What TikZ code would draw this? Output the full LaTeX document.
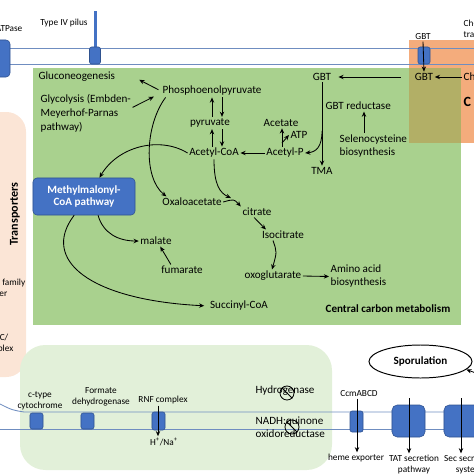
\documentclass[tikz,border=0pt]{standalone}
\usepackage{fontspec}
\setmainfont{Carlito}
\usepackage{xcolor}
\usetikzlibrary{shapes.geometric,positioning}
\usetikzlibrary{arrows.meta}

\definecolor{cgreen}{HTML}{A9D18E}
\definecolor{corange}{HTML}{F4AC7C}
\definecolor{colive}{HTML}{B2AF66}
\definecolor{cpeach}{HTML}{FBE5D6}
\definecolor{cpale}{HTML}{E2F0D9}
\definecolor{protblue}{HTML}{4472C4}
\definecolor{protdark}{HTML}{2F528F}
\definecolor{memblue}{HTML}{6F8DC0}

\tikzset{
  lbl/.style={font=\fontsize{7.9}{9.9}\selectfont, inner sep=1pt},
  sm/.style={font=\fontsize{6.6}{7.8}\selectfont, inner sep=1pt, align=center},
  prot/.style={fill=protblue, draw=protdark, line width=0.4pt, rounded corners=1.5pt, inner sep=0pt},
  mem/.style={draw=memblue, line width=0.6pt},
  arr/.style={-{Stealth[length=1.3mm, width=1.1mm]}, line width=0.6pt},
  nosign/.style={draw, circle, minimum size=3.5mm, inner sep=0pt, line width=0.6pt},
}

\begin{document}
\begin{tikzpicture}[x=0.025cm, y=-0.025cm]
\useasboundingbox (0,0) rectangle (474,474);
\clip (0,0) rectangle (474,474);

\fill[cgreen] (33,68) rectangle (461,325);
\fill[corange] (409,40) rectangle (480,143);
\fill[colive] (409,68) rectangle (461,143);
\fill[cpeach, rounded corners=14] (-30,112) rectangle (26,377);
\fill[cpale, rounded corners=18] (20,345) rectangle (332,470);

\draw[mem] (0,48) -- (480,48);
\draw[mem] (0,64) -- (480,64);
\draw[mem] (0,404) .. controls (12,410) .. (24,412) -- (480,412);
\draw[mem] (0,429) -- (480,429);

% membrane proteins, top
\node[prot, rounded corners=1mm, minimum width=3.75mm, minimum height=9.25mm] (atpase) at (2.5,58.5) {};
\node[sm, anchor=east] (atpaselbl) at (24,29) {ATPase};
\node[fill=protblue, inner sep=0pt, minimum width=0.75mm, minimum height=9.25mm] (stalk) at (95,29.5) {};
\node[prot, minimum width=2.75mm, minimum height=4.25mm] (pilus) at (95,55.5) {};
\node[sm] (piluslbl) at (64,23) {Type IV pilus};
\node[prot, minimum width=3mm, minimum height=4.25mm] (gbtT) at (424,55.5) {};
\node[sm] (gbtout) at (423,37) {GBT};
\node[sm, anchor=west, align=left] (chtr) at (462,28.5) {Ch-\\tra};

% central carbon metabolism
\node[lbl, anchor=west] (gluco) at (37,77) {Gluconeogenesis};
\node[lbl, anchor=west, align=left] (glyco) at (39,113) {Glycolysis (Embden-\\Meyerhof-Parnas\\pathway)};
\node[lbl] (pep) at (212,91) {Phosphoenolpyruvate};
\node[lbl] (pyr) at (210,123) {pyruvate};
\node[lbl] (acoa) at (214,153) {Acetyl-CoA};
\node[lbl] (acetate) at (281,123) {Acetate};
\node[lbl] (atp) at (299,135) {ATP};
\node[lbl] (acp) at (285,153) {Acetyl-P};
\node[lbl] (gbt) at (322,77) {GBT};
\node[lbl] (gbtin) at (424,77) {GBT};
\node[lbl, anchor=west] (chin) at (462,77) {Ch};
\node[font=\fontsize{10}{12}\selectfont\bfseries, anchor=west, inner sep=1pt] (cbig) at (462,102) {C};
\node[lbl, anchor=west] (gbtred) at (324,106) {GBT reductase};
\node[lbl, anchor=west, align=left] (seleno) at (338,146) {Selenocysteine\\biosynthesis};
\node[lbl] (tma) at (322,171) {TMA};
\node[fill=protblue, draw=protdark, line width=0.4pt, rounded corners=1mm, minimum width=2.55cm, minimum height=0.925cm,
  text=white, font=\fontsize{7.9}{9}\selectfont\bfseries, align=center, inner sep=1pt] (mmc) at (84,196.5) {Methylmalonyl-\\CoA pathway};
\node[lbl] (oxalo) at (192,202) {Oxaloacetate};
\node[lbl] (citrate) at (257,212) {citrate};
\node[lbl] (isocit) at (283,235) {Isocitrate};
\node[lbl] (oxo) at (273,276) {oxoglutarate};
\node[lbl, font=\fontsize{7.9}{9.2}\selectfont, anchor=west, align=left] (amino) at (329,276.5) {Amino acid\\biosynthesis};
\node[lbl] (malate) at (156,241) {malate};
\node[lbl] (fum) at (182,270) {fumarate};
\node[lbl] (succ) at (239,306) {Succinyl-CoA};
\node[lbl, font=\fontsize{7.9}{9.9}\selectfont\bfseries] (ccmet) at (388,309) {Central carbon metabolism};

\draw[arr, shorten <=2pt] (pep.west) -- ([xshift=16pt,yshift=-2pt]gluco.east);
\draw[arr] ([yshift=4pt]glyco.east) -- ([xshift=-5pt,yshift=-4pt]pep.west);
\draw[arr] (212,0 |- pyr.north) -- (212,0 |- pep.south);
\draw[arr] (222,0 |- pep.south) -- (222,0 |- pyr.north);
\draw[arr] (212,0 |- acoa.north) -- (212,0 |- pyr.south);
\draw[arr] (222,0 |- pyr.south) -- (222,0 |- acoa.north);
\draw[arr] (acp.west) -- (acoa.east);
\draw[arr] (282,0 |- acp.north) -- (282,0 |- acetate.south);
\coordinate (atpfork) at (282,143);
\draw[arr] (atpfork) -- (atp.west);
\draw[arr, shorten <=9pt, shorten >=4pt] (gbtin.west) -- (gbt.east);
\draw[arr] (chin.west) -- (gbtin.east);
\draw[arr] (gbtout.south) -- (gbtin.north);
\draw[arr] (gbt.south) -- (tma.north);
\coordinate (gbtfork) at (322,131);
\draw[arr] (gbtfork) .. controls (322,147) and (316,152) .. (acp.east);
\draw[arr] (364,0 |- seleno.north) -- (364,0 |- gbtred.south);

\draw[arr] (acoa.west) .. controls (160,136) and (118,146) .. ([xshift=11pt]mmc.north);
\draw[arr] ([xshift=-33pt]pep.south) .. controls (145,125) and (143,178) .. ([xshift=4pt]oxalo.north west);
\draw[arr] (acoa.south) .. controls (214,185) and (220,193) .. ([xshift=-7pt,yshift=6pt]citrate.north west);
\draw[arr] (oxalo.east) .. controls (234,199) .. (citrate.north west);
\draw[arr] ([xshift=-2pt]citrate.south) .. controls (258,222) .. ([xshift=4pt]isocit.north west);
\draw[arr] (273,0 |- isocit.south) .. controls (277,252) .. (272,0 |- oxo.north);
\draw[arr] (oxo.east) -- (amino.west);
\draw[arr] ([xshift=8pt]fum.north west) -- ([xshift=3pt]malate.south);
\draw[arr] ([xshift=10pt]mmc.south) .. controls (103,233) and (118,241) .. (malate.west);
\draw[arr, shorten >=3pt] ([xshift=-7pt]mmc.south) .. controls (40,260) and (90,300) .. (succ.west);

% transporters
\node[font=\fontsize{8.6}{10}\selectfont\bfseries, rotate=90, inner sep=1pt] (transp) at (15,214) {Transporters};
\node[sm, anchor=east] (tfam) at (27,283) {T family};
\node[sm, anchor=east] (tfam2) at (9,294) {transporter};
\node[sm, anchor=east] (abc) at (10,337) {C/};
\node[sm, anchor=east] (abc2) at (15,349) {complex};

% membrane proteins, bottom
\node[sm] (cytlbl) at (40,400.5) {c-type\\cytochrome};
\node[prot, minimum width=3.25mm, minimum height=4mm] (cyt) at (36.5,421) {};
\node[sm] (fdhlbl) at (101,396.5) {Formate\\dehydrogenase};
\node[prot, minimum width=3.25mm, minimum height=4mm] (fdh) at (87.5,421) {};
\node[sm] (rnflbl) at (163,400) {RNF complex};
\node[prot, minimum width=3.25mm, minimum height=4.5mm] (rnf) at (158.5,421) {};
\node[sm] (hna) at (164,442) {H\textsuperscript{+}/Na\textsuperscript{+}};
\draw[arr] (158,0 |- rnflbl.south) -- (158,0 |- hna.north);

\node[lbl] (hyd) at (285,391) {Hydrogenase};
\node[lbl, font=\fontsize{7.9}{9.2}\selectfont, anchor=west, align=left] (nadh) at (254,427.5) {NADH:quinone\\oxidoreductase};
\node[nosign] (nohyd) at (287,393) {};
\draw[line width=0.6pt] (nohyd.north west) -- (nohyd.south east);
\node[nosign] (nonadh) at (292,427) {};
\draw[line width=0.6pt] (nonadh.north west) -- (nonadh.south east);

\node[sm] (ccmlbl) at (359,394) {CcmABCD};
\node[prot, minimum width=3.25mm, minimum height=5.25mm] (ccmbox) at (356.5,421.5) {};
\node[sm] (heme) at (356,458) {heme exporter};
\draw[arr] (357,0 |- ccmlbl.south) -- (357,0 |- heme.north);

\node[prot, rounded corners=1.3mm, minimum width=8.25mm, minimum height=8mm] (tat) at (408.5,421) {};
\coordinate (tattop) at (409,398);
\node[sm] (tatlbl) at (414,464.5) {TAT secretion\\pathway};
\draw[arr] (tattop) -- (409,0 |- tatlbl.north);

\node[prot, rounded corners=1.3mm, minimum width=9mm, minimum height=8mm] (sec) at (462,421) {};
\coordinate (sectop) at (461,398);
\node[sm] (seclbl) at (469,464.5) {Sec secretion\\system};
\draw[arr] (sectop) -- (461,0 |- seclbl.north);

\node[draw, ellipse, line width=0.7pt, minimum width=2.575cm, minimum height=0.825cm, inner sep=0pt,
  font=\fontsize{7.9}{9.9}\selectfont\bfseries] (spor) at (420.5,361.5) {Sporulation};
\coordinate (sporsrc) at (490,378);
\draw[arr] (sporsrc) -- (spor.-10);

\end{tikzpicture}
\end{document}
